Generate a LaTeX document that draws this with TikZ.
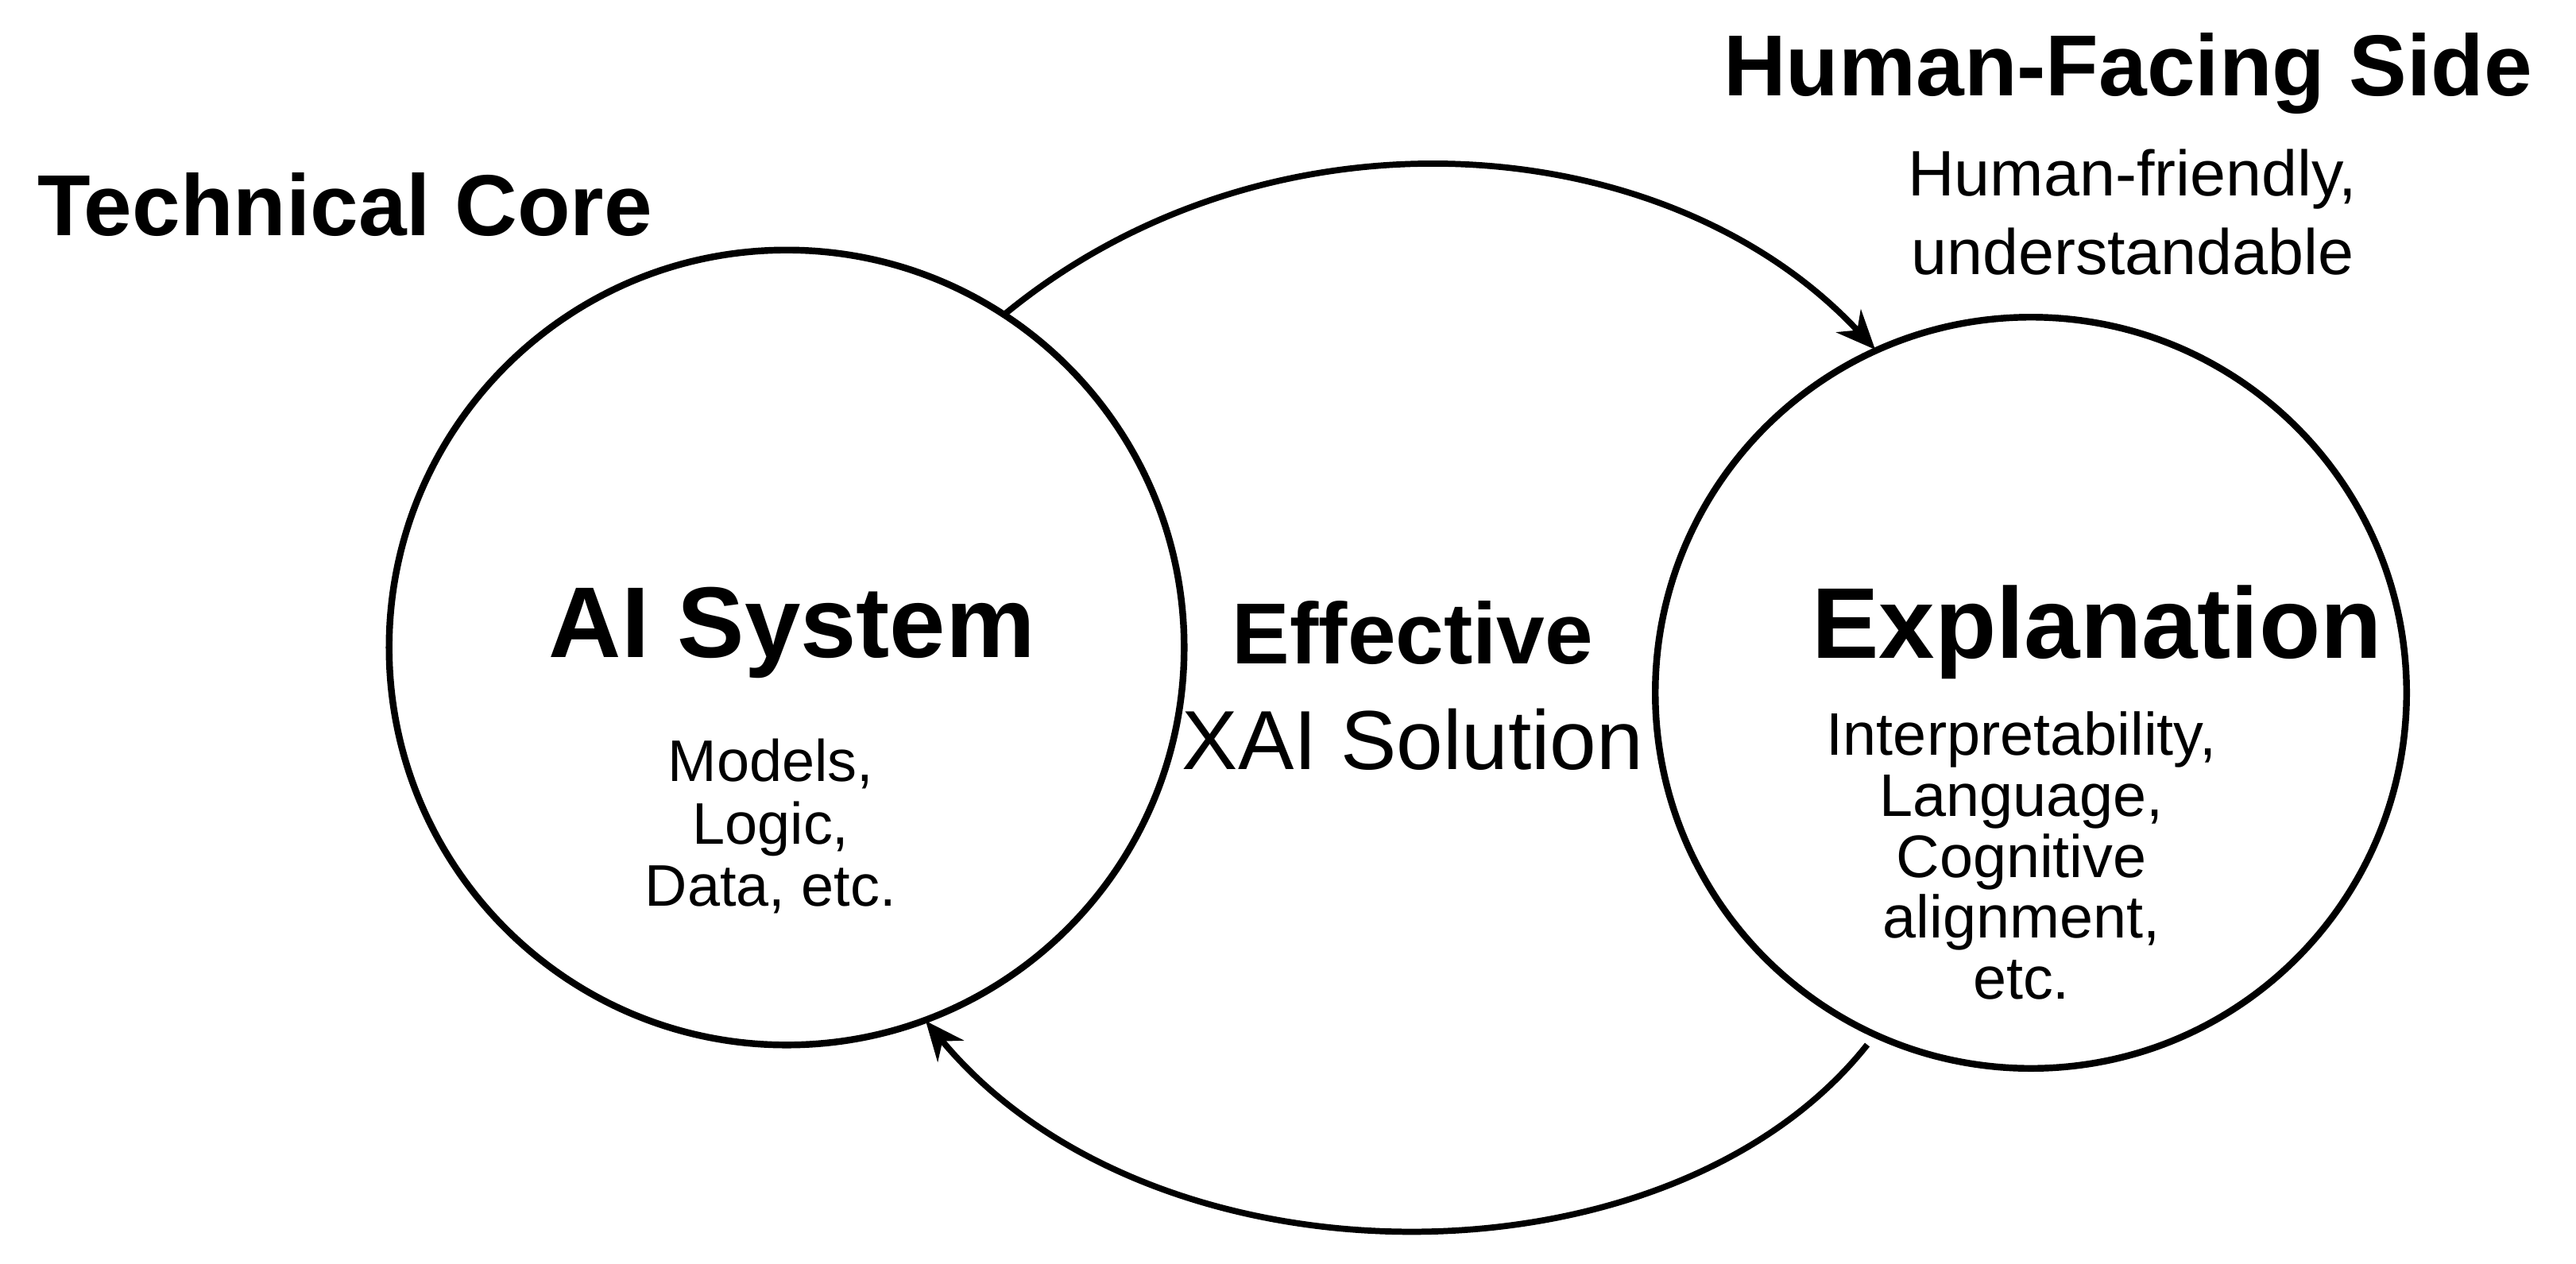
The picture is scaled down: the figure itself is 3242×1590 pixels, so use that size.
\documentclass[tikz,border=0pt]{standalone}
\usepackage{fontspec}
\setmainfont{Liberation Sans}
\usetikzlibrary{arrows.meta}
\begin{document}
\begin{tikzpicture}[x=0.01cm,y=-0.01cm,
  circ/.style={draw,line width=2.4pt,circle,inner sep=0pt},
  conn/.style={line width=2.2pt,-{Stealth[length=14pt,width=12pt]}},
  lbl/.style={align=center,inner sep=0pt}]
\useasboundingbox (0,0) rectangle (3242,1590);
\node[circ,minimum size=10cm] (ai) at (990,815) {};
\node[circ,minimum size=9.45cm] (ex) at (2556,872) {};
\coordinate (t1) at (1265,395);
\coordinate (t2) at (2360,440);
\coordinate (b1) at (2350,1315);
\coordinate (b2) at (1165,1285);
\draw[conn] (t1) .. controls (1600,120) and (2100,160) .. (t2);
\draw[conn] (b1) .. controls (2100,1630) and (1450,1630) .. (b2);
\node[lbl,font=\fontsize{31}{35}\selectfont\bfseries] (tc) at (434,258) {Technical Core};
\node[lbl,font=\fontsize{31}{35}\selectfont\bfseries] (hf) at (2678,93) {Human-Facing Side};
\node[lbl,font=\fontsize{23}{28}\selectfont] (hs) at (2684,267) {Human-friendly,\\understandable};
\node[lbl,font=\fontsize{36}{40}\selectfont\bfseries] (ait) at (997,796) {AI System};
\node[lbl,font=\fontsize{21}{22.3}\selectfont] (aid) at (970,1040) {Models,\\Logic,\\Data, etc.};
\node[lbl,font=\fontsize{31}{38}\selectfont] (eff) at (1778,863) {\textbf{Effective}\\\fontsize{30}{38}\selectfont XAI Solution};
\node[lbl,font=\fontsize{36}{40}\selectfont\bfseries] (ext) at (2639,796) {Explanation};
\node[lbl,font=\fontsize{21.5}{21.8}\selectfont] (exd) at (2544,1077) {Interpretability,\\Language,\\Cognitive\\alignment,\\etc.};
\end{tikzpicture}
\end{document}
